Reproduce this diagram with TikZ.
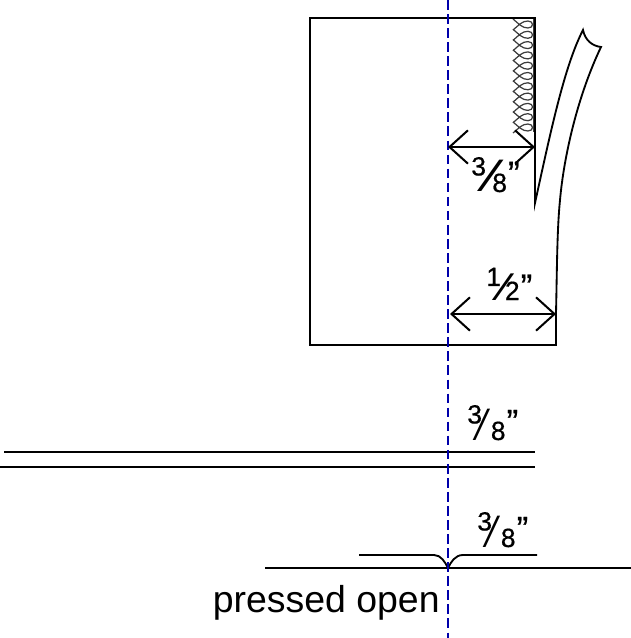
\documentclass[tikz,border=0pt]{standalone}
\usepackage{fontspec}
\setmainfont{Liberation Sans}
\newfontfamily\slashfont{Open Sans Light}
\newfontfamily\digitfont[FakeBold=0.6]{Liberation Sans}
\usetikzlibrary{arrows.meta}

% numerator, big slash, denominator, inch mark: {num}{den}{slash x scale}{slash y scale}{kern after slash}
\newcommand{\fracdigit}[1]{{\fontsize{15}{15}\digitfont #1}}
\newcommand{\inchfrac}[5]{\raisebox{#4\dimexpr 9.4pt\relax}{\fracdigit{#1}}\kern-5.6pt\scalebox{#3}[#4]{\fontsize{25}{24}\slashfont /}\kern#5\fracdigit{#2}\kern0.6pt\raisebox{\dimexpr #4\dimexpr 18pt\relax-14.6pt\relax}{\fontsize{20}{20}\digitfont ”}}

\begin{document}
\begin{tikzpicture}[x=0.02cm, y=-0.02cm]
      \definecolor{foldcolor}{RGB}{0,0,170}
      \definecolor{stitchcolor}{RGB}{60,60,60}

      % styles
      \tikzstyle{seam} = [line width=1.05pt, black]
      \tikzstyle{measure} = [line width=1.15pt, black, {Straight Barb[length=10.5pt, width=19pt]}-{Straight Barb[length=10.5pt, width=19pt]}]
      \tikzstyle{fracbox} = [inner sep=0pt, text=black, anchor=base west]
      \tikzstyle{foldline} = [line width=1pt, foldcolor, dash pattern=on 5.5pt off 2.5pt]

      \useasboundingbox (0, 0) rectangle (631, 638);

      % serger stitches along the raw edge
      \foreach \row in {0,...,10} {
        \pgfmathsetmacro{\top}{19 + 10.3*\row}
        \draw[stitchcolor, line width=0.7pt] (513, \top) .. controls (519, \top+5) and (522, \top+9) .. (528, \top+9)
          .. controls (534, \top+9) and (534, \top+2) .. (528, \top+2)
          .. controls (522, \top+2) and (519, \top+6) .. (513, \top+11);
      }
      \draw[stitchcolor, line width=0.7pt] (533.5, 18) -- (533.5, 132);

      % seam allowance, side view
      \draw[seam] (535, 18) -- (310, 18) -- (310, 345) -- (556, 345) -- (556, 313)
        .. controls (557, 270) and (557, 230) .. (560, 200)
        .. controls (564, 155) and (578, 95) .. (601, 47)
        .. controls (592, 46) and (585, 40) .. (583, 30)
        .. controls (565, 65) and (552, 125) .. (535, 203) -- cycle;

      % two stacked layers
      \coordinate (layer1a) at (4, 452);
      \coordinate (layer1b) at (535, 452);
      \coordinate (layer2a) at (0, 467);
      \coordinate (layer2b) at (535, 467);
      \draw[seam] (layer1a) -- (layer1b);
      \draw[seam] (layer2a) -- (layer2b);

      % pressed open
      \coordinate (baseL) at (265, 568);
      \coordinate (baseR) at (631, 568);
      \coordinate (flapL) at (359, 555);
      \coordinate (flapR) at (537, 555);
      \coordinate (flapM) at (448, 568);
      \draw[seam] (baseL) -- (baseR);
      \draw[seam] (flapL) -- (434, 555) .. controls (441, 555) and (445, 562) .. (flapM)
        .. controls (451, 562) and (455, 555) .. (463, 555) -- (flapR);

      % fold line
      \coordinate (foldT) at (448, 0);
      \coordinate (foldB) at (448, 638);
      \draw[foldline] (foldT) -- (foldB);

      % measures
      \coordinate (m1a) at (448, 147);
      \coordinate (m1b) at (535, 147);
      \coordinate (m2a) at (450, 314);
      \coordinate (m2b) at (556, 314);
      \draw[measure] (m1a) -- (m1b);
      \draw[measure] (m2a) -- (m2b);

      % labels
      \node[fracbox] (frac1) at (471, 192) {\inchfrac{3}{8}{1.9}{1}{-7pt}};
      \node[fracbox] (frac2) at (486, 300) {\inchfrac{1}{2}{1.6}{0.85}{-5.8pt}};
      \node[fracbox] (frac3) at (467, 440) {\inchfrac{3}{8}{1.25}{1}{0pt}};
      \node[fracbox] (frac4) at (477, 547) {\inchfrac{3}{8}{1.25}{1}{0pt}};
      \node[inner sep=0pt, anchor=base east, font=\fontsize{21.3}{24}\selectfont] (pressed) at (440, 612) {pressed open};
    \end{tikzpicture}
\end{document}
